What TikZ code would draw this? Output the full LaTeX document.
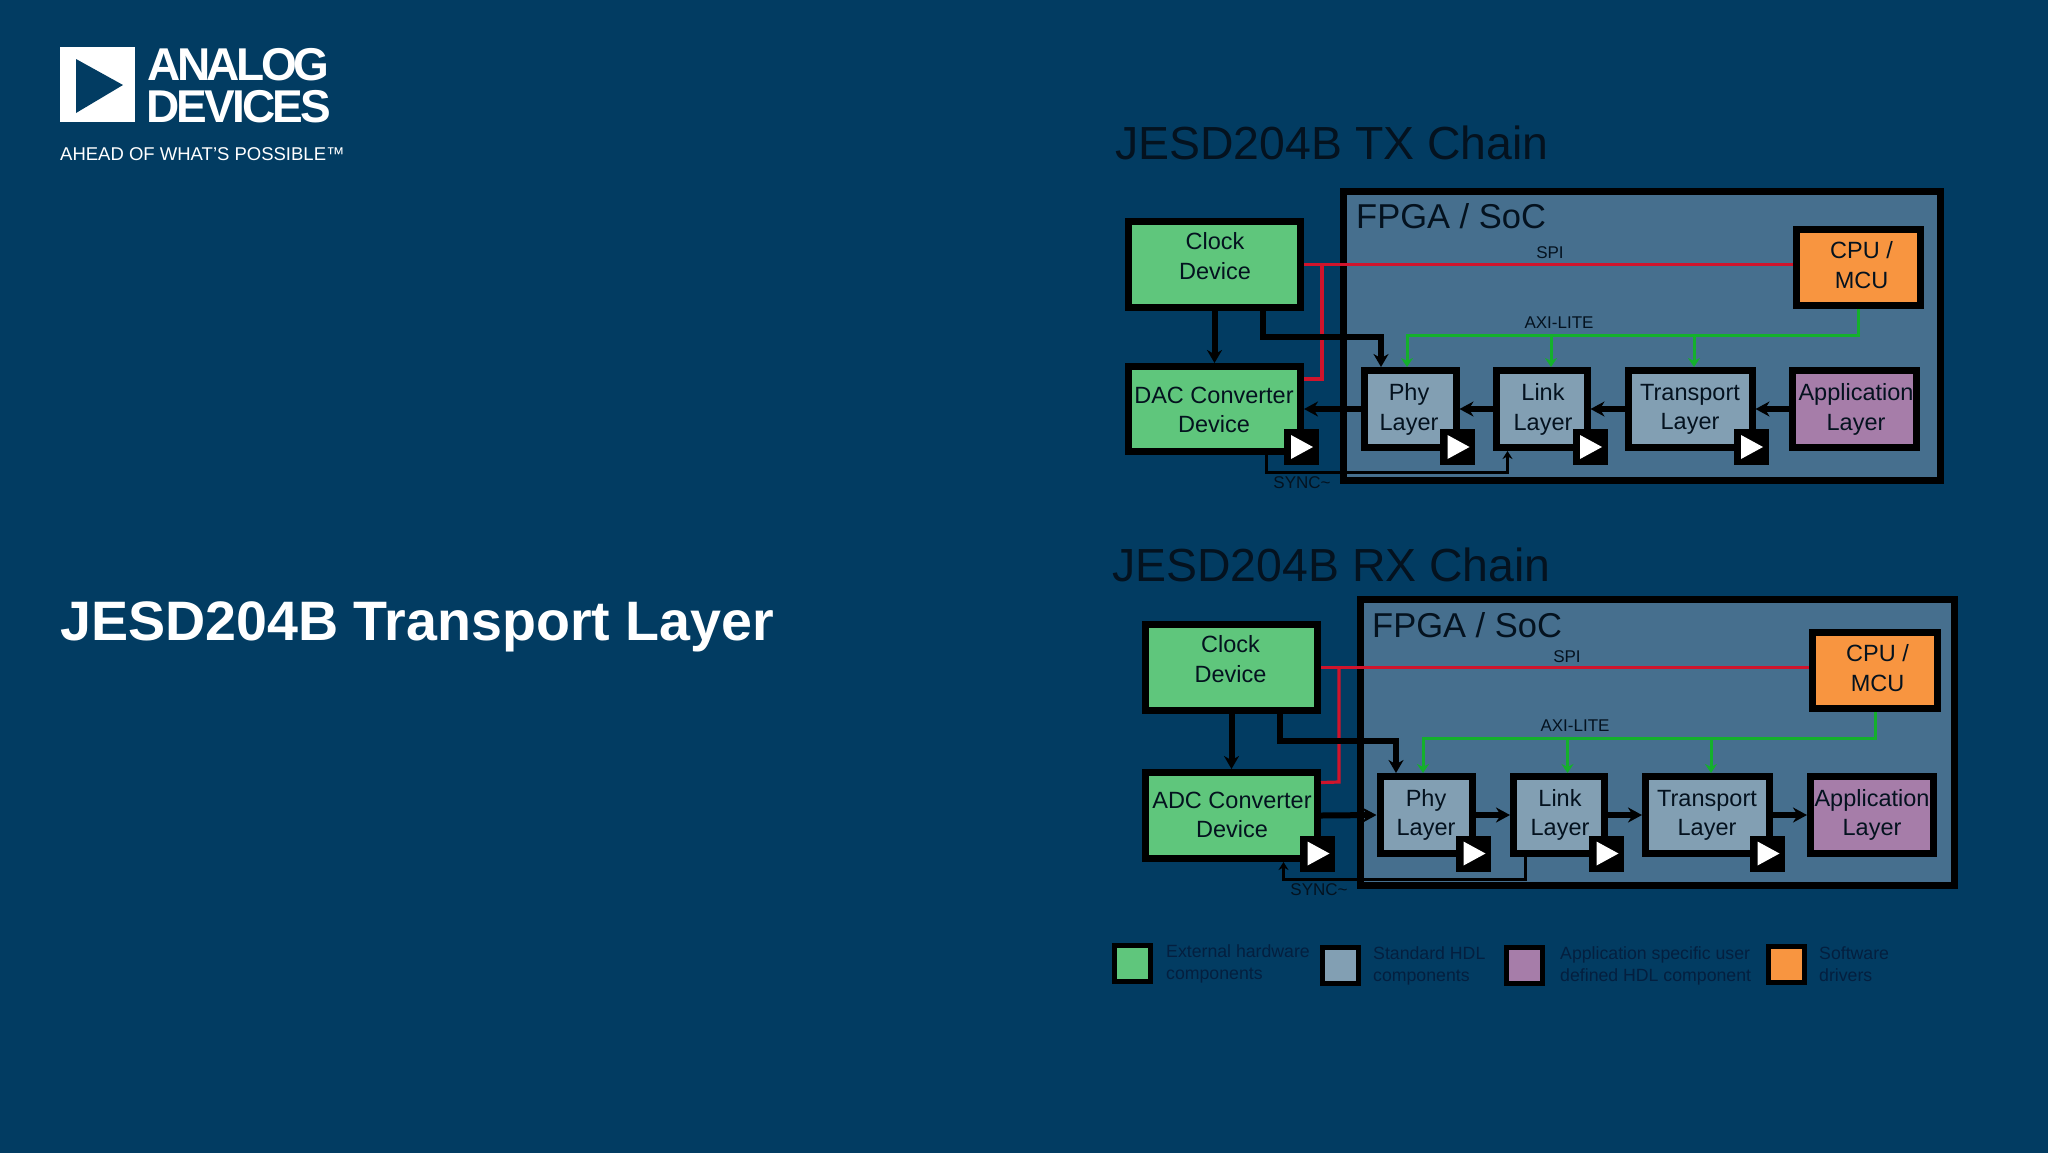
\documentclass[tikz,border=0pt]{standalone}
\usepackage{fontspec}
\setmainfont{Liberation Sans}
\usetikzlibrary{arrows.meta}
\definecolor{slidebg}{HTML}{023C62}
\definecolor{fpgafill}{HTML}{466F8E}
\definecolor{hwgreen}{HTML}{5FC67C}
\definecolor{hdlgray}{HTML}{829FB3}
\definecolor{apppurple}{HTML}{A67DA9}
\definecolor{swgold}{HTML}{F89540}
\definecolor{spired}{HTML}{D0142C}
\definecolor{axigreen}{HTML}{14B02C}
\definecolor{inktext}{HTML}{04121F}
\definecolor{legendtext}{HTML}{041F3F}
\tikzset{
  fpgabox/.style={draw=black,line width=7pt,fill=fpgafill,inner sep=0pt},
  blockbox/.style={draw=black,line width=7pt,inner sep=0pt},
  keybox/.style={draw=black,line width=4.5pt,inner sep=0pt,minimum width=36pt,minimum height=36pt},
  bufbox/.style={fill=black,inner sep=0pt,minimum width=35pt,minimum height=36pt},
  blocktext/.style={text=inktext,align=center,font=\fontsize{23.5}{29.2}\selectfont},
  wiretext/.style={text=inktext,font=\fontsize{17}{20}\selectfont},
  chaintitle/.style={text=inktext,anchor=base west,font=\fontsize{46.4}{50}\selectfont},
  fpgatitle/.style={text=inktext,anchor=base west,font=\fontsize{34.5}{40}\selectfont},
  keytext/.style={text=legendtext,anchor=base west,align=left,font=\fontsize{17.7}{22}\selectfont},
  datalink/.style={line width=6pt,-{Stealth[length=14pt,width=15pt]}},
  clocklink/.style={line width=6pt,-{Stealth[length=13pt,width=15pt]}},
  synclink/.style={line width=3pt,-{Stealth[length=8pt,width=10pt]}},
  spiwire/.style={line width=3.2pt,draw=spired},
  axiwire/.style={line width=3pt,draw=axigreen,-{Stealth[length=9pt,width=12pt]}}
}
\begin{document}
\begin{tikzpicture}[x=1pt,y=-1pt]
  \useasboundingbox (0,0) rectangle (2048,1152);
  \fill[slidebg] (-3,-3) rectangle (2051,1155);
  % logo
  \fill[white] (60,47) rectangle (135,122);
  \fill[slidebg] (76,59) -- (123,85) -- (76,113) -- cycle;
  \node[anchor=base west,inner sep=0pt,text=white] (analog) at (147,80)
    {\fontsize{46}{46}\addfontfeature{LetterSpace=-7.5}\bfseries ANALOG};
  \node[anchor=base west,inner sep=0pt,text=white] (devices) at (146,122)
    {\fontsize{46}{46}\addfontfeature{LetterSpace=-6.2}\bfseries DEVICES};
  \node[anchor=base west,inner sep=0pt,text=white] (tagline) at (60,160)
    {\fontsize{18.5}{20}\selectfont AHEAD OF WHAT’S POSSIBLE™};
  \node[anchor=base west,inner sep=0pt,text=white] (slidetitle) at (60,640)
    {\fontsize{55.6}{60}\selectfont\bfseries JESD204B Transport Layer};

  % TX chain
  \node[chaintitle,inner sep=0pt] (txtitle) at (1115,159) {JESD204B TX Chain};
  \node[fpgabox,minimum width=597pt,minimum height=289pt] (txfpga) at (1642,336) {};
  \node[fpgatitle,inner sep=0pt] (txfpgatitle) at (1356,228) {FPGA / SoC};
  \node[blockbox,fill=hwgreen,minimum width=172pt,minimum height=86pt] (txclock) at (1214.5,264.5) {};
  \node[blockbox,fill=hwgreen,minimum width=172pt,minimum height=85pt] (dac) at (1214.5,409) {};
  \node[blockbox,fill=hdlgray,minimum width=92pt,minimum height=77pt] (txphy) at (1410,409) {};
  \node[blockbox,fill=hdlgray,minimum width=91pt,minimum height=77pt] (txlink) at (1541.5,409) {};
  \node[blockbox,fill=hdlgray,minimum width=124pt,minimum height=77pt] (txtrans) at (1690,409) {};
  \node[blockbox,fill=apppurple,minimum width=124pt,minimum height=77pt] (txapp) at (1854.5,409) {};
  \node[blockbox,fill=swgold,minimum width=124pt,minimum height=76pt] (txcpu) at (1858.5,267.5) {};
  \draw[spiwire] ([yshift=3pt]txcpu.west) -- (txclock.east);
  \draw[spiwire] (1322,265) -- (1322,379) -- ([yshift=30pt]dac.east);
  \node[wiretext] (txspi) at (1550,253) {SPI};
  \draw[axiwire] (txcpu.south) |- (1407,335) -- (txphy.north -| 1407,0);
  \draw[axiwire] (1551,335) -- (txlink.north -| 1551,0);
  \draw[axiwire] (1694,335) -- (txtrans.north -| 1694,0);
  \node[wiretext] (txaxi) at (1559,323) {AXI-LITE};
  \draw[clocklink] (txclock.south) -- (dac.north);
  \draw[clocklink] ([xshift=48pt]txclock.south) -- ++(0,26) -| ([xshift=-29pt]txphy.north);
  \draw[datalink] (txphy.west) -- (dac.east);
  \draw[datalink] (txlink.west) -- (txphy.east);
  \draw[datalink] (txtrans.west) -- (txlink.east);
  \draw[datalink] (txapp.west) -- (txtrans.east);
  \draw[synclink] ([xshift=52pt]dac.south) -- ++(0,17) -| ([xshift=-34pt]txlink.south);
  \node[wiretext] (txsync) at (1302,483) {SYNC\textasciitilde};
  \node[bufbox] (dacbuf) at (1301,447) {};
  \node[bufbox] (txphybuf) at (1457.5,447) {};
  \node[bufbox] (txlinkbuf) at (1590,447) {};
  \node[bufbox] (txtransbuf) at (1751,447) {};
  \node[blocktext] (txclocktext) at (1215,256) {Clock\\Device};
  \node[blocktext] (dactext) at (1214,410) {DAC Converter\\Device};
  \node[blocktext] (txphytext) at (1409,409.5) {Phy\\Layer};
  \node[blocktext] (txlinktext) at (1543,409.5) {Link\\Layer};
  \node[blocktext] (txtranstext) at (1690,409.5) {Transport\\Layer};
  \node[blocktext] (txapptext) at (1856,409.5) {Application\\Layer};
  \node[blocktext] (txcputext) at (1861.5,265) {CPU /\\MCU};

  % RX chain
  \node[chaintitle,inner sep=0pt] (rxtitle) at (1112,581) {JESD204B RX Chain};
  \node[fpgabox,minimum width=594pt,minimum height=286pt] (rxfpga) at (1657.5,742.5) {};
  \node[fpgatitle,inner sep=0pt] (rxfpgatitle) at (1372,637) {FPGA / SoC};
  \node[blockbox,fill=hwgreen,minimum width=172pt,minimum height=86pt] (rxclock) at (1231.5,667.5) {};
  \node[blockbox,fill=hwgreen,minimum width=172pt,minimum height=86pt] (adc) at (1231.5,815.5) {};
  \node[blockbox,fill=hdlgray,minimum width=92pt,minimum height=77pt] (rxphy) at (1426,815) {};
  \node[blockbox,fill=hdlgray,minimum width=91pt,minimum height=77pt] (rxlink) at (1559,815) {};
  \node[blockbox,fill=hdlgray,minimum width=124pt,minimum height=77pt] (rxtrans) at (1707.5,815) {};
  \node[blockbox,fill=apppurple,minimum width=123pt,minimum height=77pt] (rxapp) at (1872,815) {};
  \node[blockbox,fill=swgold,minimum width=125pt,minimum height=76pt] (rxcpu) at (1875,670.5) {};
  \draw[spiwire] ([yshift=3pt]rxcpu.west) -- (rxclock.east);
  \draw[spiwire] (1339,668) -- (1339,782) -- ([yshift=33pt]adc.east);
  \node[wiretext] (rxspi) at (1567,657) {SPI};
  \draw[axiwire] (rxcpu.south) |- (1423,738) -- (rxphy.north -| 1423,0);
  \draw[axiwire] (1567.5,738) -- (rxlink.north -| 1567.5,0);
  \draw[axiwire] (1711,738) -- (rxtrans.north -| 1711,0);
  \node[wiretext] (rxaxi) at (1575,726) {AXI-LITE};
  \draw[clocklink] (rxclock.south) -- (adc.north);
  \draw[clocklink] ([xshift=48pt]rxclock.south) -- ++(0,27) -| ([xshift=-30pt]rxphy.north);
  \draw[datalink] (adc.east) -- (rxphy.west);
  \draw[datalink] (rxphy.east) -- (rxlink.west);
  \draw[datalink] (rxlink.east) -- (rxtrans.west);
  \draw[datalink] (rxtrans.east) -- (rxapp.west);
  \draw[synclink] ([xshift=-34pt]rxlink.south) -- ++(0,22) -| ([xshift=52pt]adc.south);
  \node[wiretext] (rxsync) at (1319,890) {SYNC\textasciitilde};
  \node[bufbox] (adcbuf) at (1317.5,853.5) {};
  \node[bufbox] (rxphybuf) at (1473.5,853.5) {};
  \node[bufbox] (rxlinkbuf) at (1606.5,853.5) {};
  \node[bufbox] (rxtransbuf) at (1767.5,853.5) {};
  \node[blocktext] (rxclocktext) at (1230.5,659) {Clock\\Device};
  \node[blocktext] (adctext) at (1232,815) {ADC Converter\\Device};
  \node[blocktext] (rxphytext) at (1426,815) {Phy\\Layer};
  \node[blocktext] (rxlinktext) at (1560,815) {Link\\Layer};
  \node[blocktext] (rxtranstext) at (1707,815) {Transport\\Layer};
  \node[blocktext] (rxapptext) at (1872,815) {Application\\Layer};
  \node[blocktext] (rxcputext) at (1877.5,668) {CPU /\\MCU};

  \foreach \b in {dacbuf,txphybuf,txlinkbuf,txtransbuf,adcbuf,rxphybuf,rxlinkbuf,rxtransbuf}
    \fill[white] ([shift={(-10,-12)}]\b.center) -- ++(22,12) -- ++(-22,12) -- cycle;

  % legend
  \node[keybox,fill=hwgreen] (keyhw) at (1132.5,963.5) {};
  \node[keytext,inner sep=0pt] (keyhwtext) at (1166,979) {External hardware\\components};
  \node[keybox,fill=hdlgray] (keyhdl) at (1340.5,965.5) {};
  \node[keytext,inner sep=0pt] (keyhdltext) at (1373,981) {Standard HDL\\components};
  \node[keybox,fill=apppurple] (keyapp) at (1524.5,965.5) {};
  \node[keytext,inner sep=0pt] (keyapptext) at (1560,981) {Application specific user\\defined HDL component};
  \node[keybox,fill=swgold] (keysw) at (1786.5,964.5) {};
  \node[keytext,inner sep=0pt] (keyswtext) at (1819,981) {Software\\drivers};
\end{tikzpicture}
\end{document}
